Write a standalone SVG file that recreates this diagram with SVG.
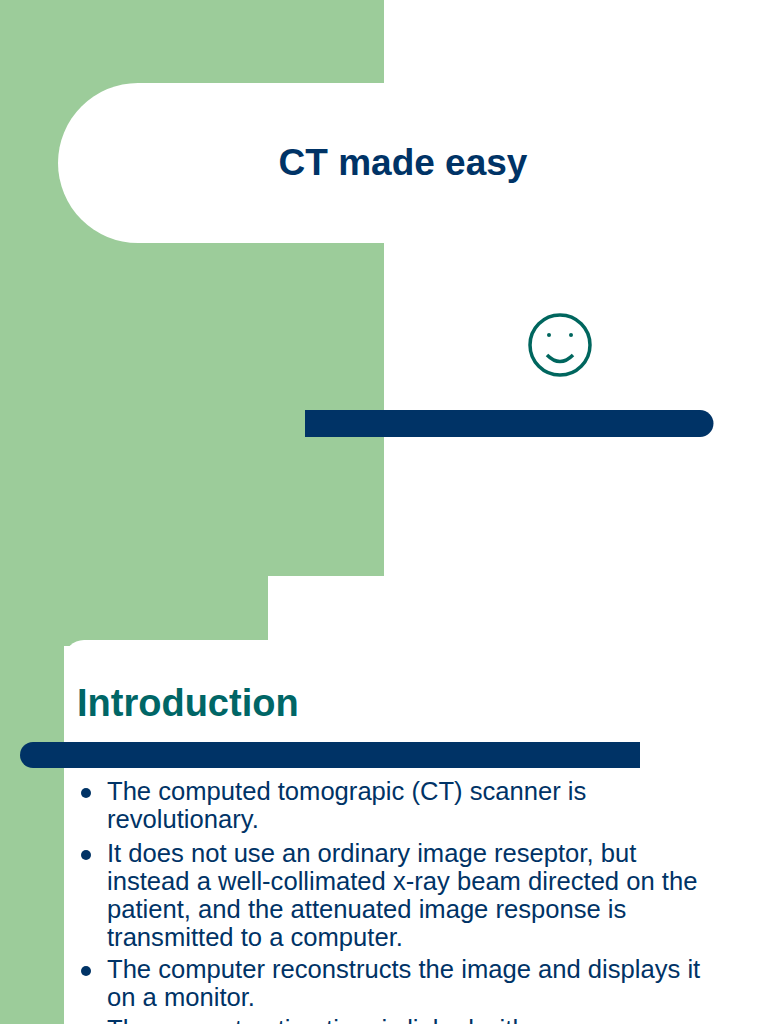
<svg xmlns="http://www.w3.org/2000/svg" width="768" height="1024" viewBox="0 0 768 1024">
<style>
.bar{fill:#003366}
.body{font-family:"Liberation Sans",Arial,sans-serif;font-size:25.6px;fill:#003366}
.dot{fill:#003366}
</style>
<rect width="768" height="1024" fill="#ffffff"/>
<g id="background">
<rect x="0" y="0" width="384" height="576" fill="#9ccc9a"/>
<rect x="0" y="576" width="268" height="70" fill="#9ccc9a"/>
<rect x="0" y="640" width="64" height="384" fill="#9ccc9a"/>
<path d="M138,83 H384 V243 H138 A80,80 0 0 1 138,83 Z" fill="#ffffff"/>
<path d="M84,640 H768 V1024 H64 V660 A20,20 0 0 1 84,640 Z" fill="#ffffff"/>
</g>
<g id="title">
<text x="403" y="175" text-anchor="middle" font-family="Liberation Sans,Arial,sans-serif" font-weight="bold" font-size="37" fill="#003366">CT made easy</text>
</g>
<g id="smiley" fill="none" stroke="#00665e" stroke-width="3.5">
<ellipse cx="560" cy="345" rx="30" ry="30"/>
<path d="M547,355 Q560,368 573,355"/>
<circle cx="549" cy="335" r="2" fill="#00665e" stroke="none"/>
<circle cx="571" cy="335" r="2" fill="#00665e" stroke="none"/>
</g>
<g id="bars">
<path class="bar" d="M305,410 H700 A13.5,13.5 0 0 1 700,437 H305 Z"/>
<path class="bar" d="M33,742 H640 V768 H33 A13,13 0 0 1 33,742 Z"/>
</g>
<g id="heading">
<text x="77" y="716" font-family="Liberation Sans,Arial,sans-serif" font-weight="bold" font-size="38" fill="#006666">Introduction</text>
</g>
<g id="bullets">
<circle class="dot" cx="86" cy="793" r="5"/>
<circle class="dot" cx="86" cy="855" r="5"/>
<circle class="dot" cx="86" cy="971" r="5"/>
<text class="body" x="107" y="800">The computed tomograpic (CT) scanner is</text>
<text class="body" x="107" y="828">revolutionary.</text>
<text class="body" x="107" y="862">It does not use an ordinary image reseptor, but</text>
<text class="body" x="107" y="890">instead a well-collimated x-ray beam directed on the</text>
<text class="body" x="107" y="918">patient, and the attenuated image response is</text>
<text class="body" x="107" y="946">transmitted to a computer.</text>
<text class="body" x="107" y="978">The computer reconstructs the image and displays it</text>
<text class="body" x="107" y="1006">on a monitor.</text>
<text class="body" x="107" y="1038">The reconstruction time is linked with</text>
</g>
</svg>
